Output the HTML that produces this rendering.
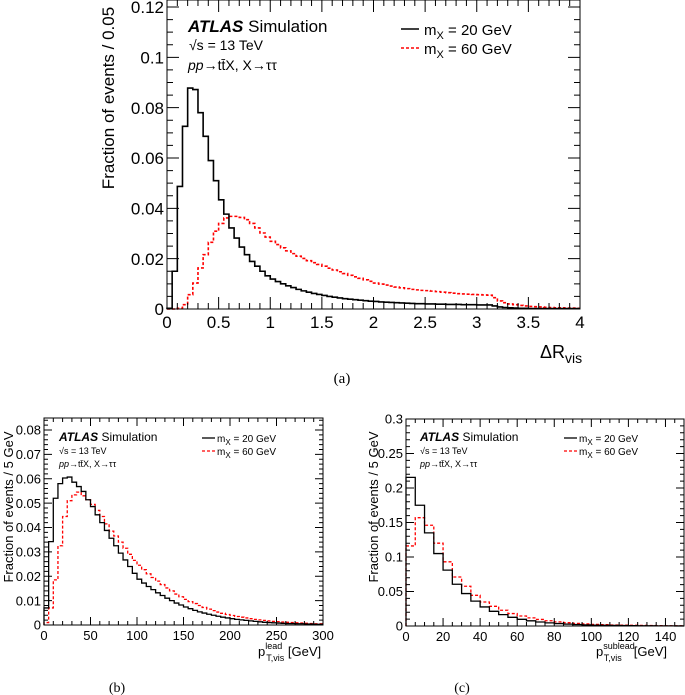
<!DOCTYPE html>
<html><head><meta charset="utf-8"><style>
html,body{margin:0;padding:0;background:#fff;}
svg{display:block;font-family:"Liberation Sans",sans-serif;}
</style></head><body>
<svg id="fig" width="685" height="695" viewBox="0 0 685 695" xmlns="http://www.w3.org/2000/svg"></svg>
<script>
// ---- Data: panel (a) ΔR_vis, bins of 0.05 from 0 to 4
const aBlack = [0.0003,0.015,0.0487,0.0726,0.0878,0.0872,0.078,0.0686,0.059,0.051,
0.0434,0.0377,0.0322,0.0282,0.0246,0.0216,0.0189,0.017,0.015,0.0132,
0.0119,0.0109,0.0100,0.0092,0.0085,0.0078,0.0072,0.0067,0.0062,0.0058,
0.0054,0.0050,0.0047,0.0044,0.0041,0.0039,0.0037,0.0035,0.0033,0.0031,
0.0030,0.0028,0.0027,0.0026,0.0025,0.0024,0.0023,0.0022,0.0021,0.0021,
0.0020,0.0020,0.0019,0.0019,0.0018,0.0018,0.0018,0.0017,0.0017,0.0017,
0.0016,0.0016,0.0016,0.0012,0.0008,0.0006,0.0005,0.0004,0.0003,0.0003,
0.0002,0.0002,0.0002,0.0002,0.0002,0.0002,0.0002,0.0002,0.0002,0.0002];
const aRed = [0,0,0.0003,0.0017,0.0057,0.0103,0.0163,0.0216,0.0265,0.0309,
0.034,0.0362,0.0368,0.0368,0.0364,0.0355,0.034,0.0322,0.0302,0.0286,
0.0269,0.0256,0.0243,0.0231,0.0220,0.0210,0.0201,0.0192,0.0184,0.0177,
0.0170,0.0162,0.0155,0.0148,0.0141,0.0134,0.0128,0.0122,0.0116,0.0110,
0.0103,0.0099,0.0095,0.0091,0.0087,0.0084,0.0081,0.0078,0.0076,0.0074,
0.0073,0.0071,0.0069,0.0067,0.0065,0.0063,0.0061,0.0060,0.0059,0.0058,
0.0057,0.0056,0.0055,0.0045,0.0032,0.0025,0.0020,0.0017,0.0014,0.0012,
0.0010,0.0009,0.0008,0.0007,0.0006,0.0005,0.0005,0.0004,0.0004,0.0003];
const aXTicks = ["0","0.5","1","1.5","2","2.5","3","3.5","4"];
const aYTicks = ["0","0.02","0.04","0.06","0.08","0.1","0.12"];
// ---- panel (b) leading pT, 5 GeV bins 0-300
const bBlack = [0.007,0.0342,0.052,0.058,0.0603,0.0607,0.0586,0.0568,0.0548,0.0514,
0.0486,0.0452,0.042,0.0388,0.0356,0.0325,0.0295,0.0267,0.024,0.0212,
0.0188,0.0172,0.0158,0.0145,0.0132,0.0121,0.011,0.01,0.009,0.0082,
0.0074,0.0067,0.006,0.0054,0.0049,0.0044,0.004,0.0036,0.0032,0.0029,
0.0026,0.0023,0.0021,0.0019,0.0017,0.0015,0.0013,0.0011,0.001,0.0009,
0.0008,0.0007,0.0006,0.0006,0.0005,0.0005,0.0004,0.0004,0.0003,0.0003];
const bRed = [0.001,0.007,0.0185,0.0325,0.0445,0.051,0.0534,0.0545,0.053,0.0514,
0.0495,0.047,0.0445,0.0415,0.0385,0.0365,0.034,0.0315,0.029,0.0265,
0.0245,0.0227,0.021,0.0195,0.018,0.0166,0.0152,0.014,0.0127,0.0116,
0.0105,0.0096,0.0088,0.008,0.0072,0.0065,0.0059,0.0053,0.0048,0.0043,
0.0039,0.0035,0.0032,0.0029,0.0026,0.0023,0.0021,0.0019,0.0017,0.0015,
0.0014,0.0012,0.0011,0.001,0.0009,0.0008,0.0007,0.0006,0.0005,0.0005];
const bXTicks = ["0","50","100","150","200","250","300"];
const bYTicks = ["0","0.01","0.02","0.03","0.04","0.05","0.06","0.07","0.08"];
// ---- panel (c) subleading pT, 5 GeV bins 0-150
const cBlack = [0.2154,0.175,0.135,0.105,0.081,0.0605,0.047,0.036,0.0276,0.0213,
0.0165,0.0126,0.0097,0.0075,0.0058,0.0045,0.0035,0.0027,0.0021,0.0016,
0.0013,0.001,0.0008,0.0006,0.0005,0.0004,0.0003,0.0002,0.0002,0.0001];
const cRed = [0.116,0.157,0.146,0.12,0.093,0.071,0.0576,0.0445,0.0348,0.0285,
0.0228,0.018,0.0145,0.0118,0.0095,0.0076,0.006,0.0048,0.0038,0.003,
0.0024,0.0019,0.0015,0.0012,0.001,0.0008,0.0006,0.0005,0.0004,0.0003];
const cXTicks = ["0","20","40","60","80","100","120","140"];
const cYTicks = ["0","0.05","0.1","0.15","0.2","0.25","0.3"];

const NS="http://www.w3.org/2000/svg";
const fig=document.getElementById('fig');
function mk(tag,attrs,parent){const e=document.createElementNS(NS,tag);for(const k in attrs)e.setAttribute(k,attrs[k]);(parent||fig).appendChild(e);return e;}

function panel(o){
  const g=mk('g',{});
  
  
  const sx=v=>o.x0+(v-o.xmin)/(o.xmax-o.xmin)*(o.x1-o.x0);
  const sy=v=>o.y0-(v/o.ymaxTick)*(o.y0-o.yTickTop);
  [[o.red,'#ff0000','3,2','series-mx60'],[o.black,'#000','','series-mx20']].forEach(([arr,col,dash,nm])=>{
    let d='M'+sx(o.xmin)+','+sy(0);
    const w=(o.xmax-o.xmin)/arr.length;
    arr.forEach((v,i)=>{const y=sy(v);d+=' L'+sx(o.xmin+i*w)+','+y+' L'+sx(o.xmin+(i+1)*w)+','+y;});
    const p=mk('path',{d:d,fill:'none',stroke:col,'stroke-width':o.lw,'stroke-dasharray':dash},g);
    
    
  });
  const fr=mk('rect',{x:o.x0,y:o.top,width:o.x1-o.x0,height:o.y0-o.top,fill:'none',stroke:'#000','stroke-width':1},g);
  
  
  let td='';
  for(let v=o.xmin;v<=o.xmax+1e-9;v+=o.xMinor){const X=sx(v);const maj=Math.abs(v/o.xMajor-Math.round(v/o.xMajor))<1e-6;const L=maj?o.tl:o.tl/2;td+=`M${X},${o.y0}v${-L}M${X},${o.top}v${L}`;}
  for(let v=0;sy(v)>=o.top-0.5;v+=o.yMinor){const Y=sy(v);const maj=Math.abs(v/o.yMajor-Math.round(v/o.yMajor))<1e-6;const L=maj?o.tl:o.tl/2;td+=`M${o.x0},${Y}h${L}M${o.x1},${Y}h${-L}`;}
  const tk=mk('path',{d:td,stroke:'#000','stroke-width':1,fill:'none'},g);
  
  
  o.xt.forEach((s,i)=>{const t=mk('text',{x:sx(o.xmin+i*o.xMajor),y:o.y0+o.fs+2,'font-size':o.fs,'text-anchor':'middle'},g);t.textContent=s;
    
    });
  o.yt.forEach((s,i)=>{const t=mk('text',{x:o.x0-3,y:sy(i*o.yMajor)+o.fs*0.36,'font-size':o.fs,'text-anchor':'end'},g);t.textContent=s;
    
    });
  return g;
}
panel({name:'panel-a',x0:167,x1:580,y0:309,top:0,yTickTop:7,xmin:0,xmax:4,ymaxTick:0.12,xMajor:0.5,xMinor:0.1,yMajor:0.02,yMinor:0.005,tl:12,fs:17,lw:1.6,black:aBlack,red:aRed,xt:aXTicks,yt:aYTicks});
panel({name:'panel-b',x0:44,x1:323,y0:625,top:418,yTickTop:430,xmin:0,xmax:300,ymaxTick:0.08,xMajor:50,xMinor:10,yMajor:0.01,yMinor:0.002,tl:8,fs:13,lw:1.3,black:bBlack,red:bRed,xt:bXTicks,yt:bYTicks});
panel({name:'panel-c',x0:406,x1:684,y0:626,top:419,yTickTop:419,xmin:0,xmax:150,ymaxTick:0.3,xMajor:20,xMinor:5,yMajor:0.05,yMinor:0.01,tl:8,fs:13,lw:1.3,black:cBlack,red:cRed,xt:cXTicks,yt:cYTicks});
</script>
<svg style="position:absolute;left:0;top:0" width="685" height="695">
 <g font-family="Liberation Sans, sans-serif">
  <text transform="translate(114,98) rotate(-90)" font-size="17" text-anchor="middle">Fraction of events / 0.05</text>
  <text x="540" y="358" font-size="18">ΔR<tspan font-size="14" dy="5">vis</tspan></text>
  <text x="342" y="383" font-family="Liberation Serif, serif" font-size="15" text-anchor="middle">(a)</text>
  <text x="188" y="32" font-size="17"><tspan font-weight="bold" font-style="italic">ATLAS</tspan> Simulation</text>
  <text x="189" y="50" font-size="14">√s = 13 TeV</text>
  <text x="188" y="70" font-size="14"><tspan font-style="italic">pp</tspan>→tt̄X, X→ττ</text>
  <line x1="401" y1="29" x2="419" y2="29" stroke="#000" stroke-width="1.6"/>
  <text x="424" y="35" font-size="15">m<tspan font-size="11" dy="4">X</tspan><tspan dy="-4"> = 20 GeV</tspan></text>
  <line x1="401" y1="48" x2="419" y2="48" stroke="#f00" stroke-width="1.6" stroke-dasharray="3,2"/>
  <text x="424" y="54" font-size="15">m<tspan font-size="11" dy="4">X</tspan><tspan dy="-4"> = 60 GeV</tspan></text>

  <text transform="translate(13,507) rotate(-90)" font-size="13" text-anchor="middle">Fraction of events / 5 GeV</text>
  <text x="258" y="656" font-size="13">p<tspan font-size="9" dy="-7">lead</tspan><tspan font-size="9" dx="-16" dy="12">T,vis</tspan><tspan dy="-5"> [GeV]</tspan></text>
  <text x="117" y="692" font-family="Liberation Serif, serif" font-size="14" text-anchor="middle">(b)</text>
  <text x="59" y="441" font-size="12"><tspan font-weight="bold" font-style="italic">ATLAS</tspan> Simulation</text>
  <text x="59" y="454" font-size="9">√s = 13 TeV</text>
  <text x="59" y="467" font-size="9"><tspan font-style="italic">pp</tspan>→tt̄X, X→ττ</text>
  <line x1="202" y1="438" x2="215" y2="438" stroke="#000" stroke-width="1.3"/>
  <text x="217" y="442" font-size="10">m<tspan font-size="8" dy="3">X</tspan><tspan dy="-3"> = 20 GeV</tspan></text>
  <line x1="202" y1="451" x2="215" y2="451" stroke="#f00" stroke-width="1.3" stroke-dasharray="3,2"/>
  <text x="217" y="455" font-size="10">m<tspan font-size="8" dy="3">X</tspan><tspan dy="-3"> = 60 GeV</tspan></text>

  <text transform="translate(378,507) rotate(-90)" font-size="13" text-anchor="middle">Fraction of events / 5 GeV</text>
  <text x="596" y="656" font-size="13">p<tspan font-size="9" dy="-7">sublead</tspan><tspan font-size="9" dx="-31" dy="12">T,vis</tspan><tspan dx="12" dy="-5">[GeV]</tspan></text>
  <text x="462" y="692" font-family="Liberation Serif, serif" font-size="14" text-anchor="middle">(c)</text>
  <text x="420" y="441" font-size="12"><tspan font-weight="bold" font-style="italic">ATLAS</tspan> Simulation</text>
  <text x="420" y="454" font-size="9">√s = 13 TeV</text>
  <text x="420" y="467" font-size="9"><tspan font-style="italic">pp</tspan>→tt̄X, X→ττ</text>
  <line x1="564" y1="438" x2="577" y2="438" stroke="#000" stroke-width="1.3"/>
  <text x="579" y="442" font-size="10">m<tspan font-size="8" dy="3">X</tspan><tspan dy="-3"> = 20 GeV</tspan></text>
  <line x1="564" y1="451" x2="577" y2="451" stroke="#f00" stroke-width="1.3" stroke-dasharray="3,2"/>
  <text x="579" y="455" font-size="10">m<tspan font-size="8" dy="3">X</tspan><tspan dy="-3"> = 60 GeV</tspan></text>
 </g>
</svg>
</body></html>
